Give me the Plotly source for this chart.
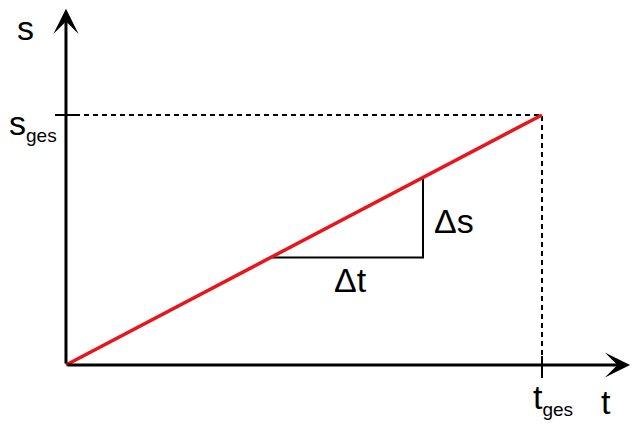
import plotly.graph_objects as go

# Weg-Zeit-Diagramm, gleichförmige Bewegung
t_ges = 1.0
s_ges = 1.0
t_line = [0, t_ges]
s_line = [0, s_ges]

# Steigungsdreieck
tri_t = [0.43, 0.75, 0.75]
tri_s = [0.43, 0.43, 0.75]

# Achsenenden (Pfeilspitzen)
t_max = 1.185
s_max = 1.425

font = dict(family="Liberation Sans, Arial, sans-serif", size=34, color="black")
sub = '<sub><span style="font-size:19px">ges</span></sub>'

fig = go.Figure()

# gestrichelte Hilfslinien
fig.add_trace(go.Scatter(
    x=[0, t_ges, t_ges], y=[s_ges, s_ges, 0], mode="lines",
    line=dict(color="black", width=2, dash="5px,4px"), hoverinfo="skip"))

# Steigungsdreieck
fig.add_trace(go.Scatter(
    x=tri_t, y=tri_s, mode="lines",
    line=dict(color="black", width=2), hoverinfo="skip"))

# s(t)
fig.add_trace(go.Scatter(
    x=t_line, y=s_line, mode="lines",
    line=dict(color="#e8161b", width=3.5), hoverinfo="skip"))

# Achsen als Pfeile
for hx, hy in [(t_max, 0), (0, s_max)]:
    fig.add_annotation(x=hx, y=hy, ax=0, ay=0, xref="x", yref="y",
                       axref="x", ayref="y", text="", showarrow=True,
                       arrowhead=3, arrowsize=1.4, arrowwidth=3,
                       arrowcolor="black", standoff=0, startstandoff=0)

# Markierungen bei s_ges und t_ges
fig.add_shape(type="line", xref="x", yref="y", xsizemode="pixel", xanchor=0,
              x0=-11, x1=11, y0=s_ges, y1=s_ges,
              line=dict(color="black", width=2))
fig.add_shape(type="line", xref="x", yref="y", ysizemode="pixel", yanchor=0,
              x0=t_ges, x1=t_ges, y0=-13, y1=9,
              line=dict(color="black", width=2))

# Beschriftungen
labels = [
    ("s", -0.084, 1.35, "center", "middle"),
    ("s" + sub, -0.017, 0.96, "right", "middle"),
    ("Δs", 0.815, 0.576, "center", "middle"),
    ("Δt", 0.597, 0.34, "center", "middle"),
    ("t" + sub, 1.023, -0.135, "center", "middle"),
    ("t", 1.134, -0.148, "center", "middle"),
]
for txt, lx, ly, xa, ya in labels:
    fig.add_annotation(x=lx, y=ly, xref="x", yref="y", text=txt,
                       showarrow=False, xanchor=xa, yanchor=ya, font=font,
                       borderpad=0)

fig.update_layout(
    width=640, height=427,
    margin=dict(l=0, r=0, t=0, b=0),
    paper_bgcolor="white", plot_bgcolor="white",
    showlegend=False,
    xaxis=dict(range=[-0.1218, 1.2227], visible=False),
    yaxis=dict(range=[-0.28, 1.428], visible=False),
)

fig.write_html("out.html")
